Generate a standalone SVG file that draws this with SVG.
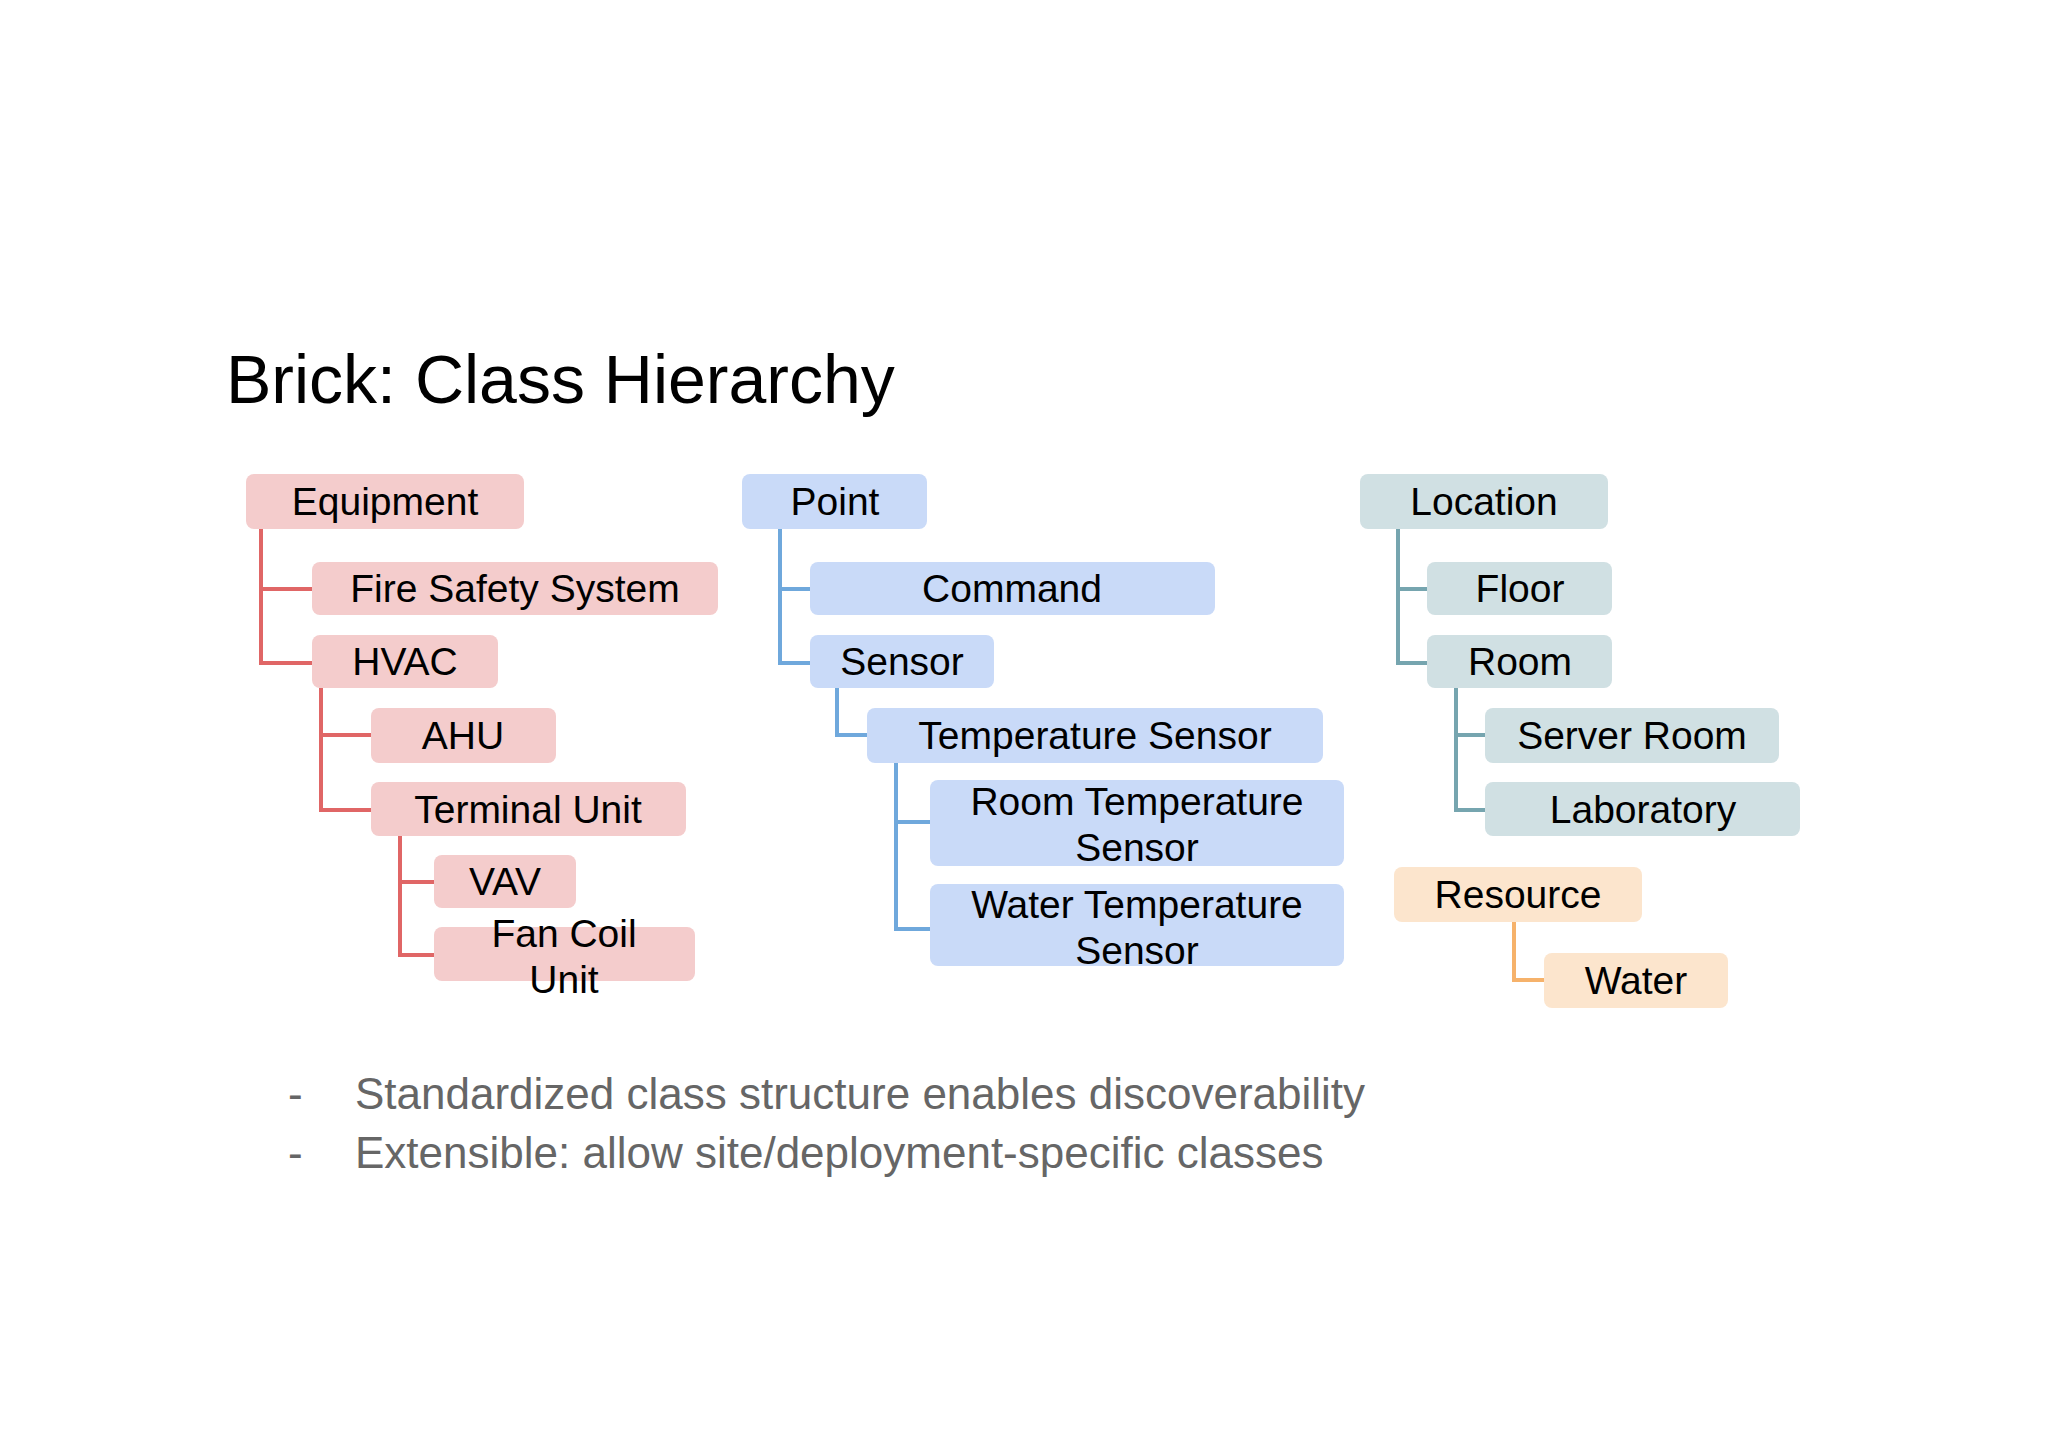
<svg xmlns="http://www.w3.org/2000/svg" width="2048" height="1447" viewBox="0 0 2048 1447">
<style>
text{font-family:"Liberation Sans",Arial,sans-serif;fill:#000}
.n{font-size:39px;text-anchor:middle}
.eq rect{fill:#f4cccc}.pt rect{fill:#c9daf8}.lc rect{fill:#d0e0e3}.rs rect{fill:#fce5cd}
.c path{fill:none;stroke-width:4}
.ce{stroke:#e06666}.cp{stroke:#6fa8dc}.cl{stroke:#76a5af}.cr{stroke:#f6b26b}
.b{font-size:44px;fill:#666}
</style>
<rect width="2048" height="1447" fill="#fff"/>
<text x="226" y="403" style="font-size:68px">Brick: Class Hierarchy</text>
<g class="c">
<path class="ce" d="M261 529V663H312M261 589H312M321 688V810H371M321 735H371M400 836V955H434M400 882H434"/>
<path class="cp" d="M780 529V663H810M780 589H810M837 688V735H867M896 763V929H930M896 822H930"/>
<path class="cl" d="M1398 529V663H1427M1398 589H1427M1456 688V810H1485M1456 735H1485"/>
<path class="cr" d="M1514 922V980H1544"/>
</g>
<g id="equipment" class="eq"><rect x="246" y="474" width="278" height="55" rx="8"/><text class="n" x="385" y="515">Equipment</text></g>
<g id="fire" class="eq"><rect x="312" y="562" width="406" height="53" rx="8"/><text class="n" x="515" y="602">Fire Safety System</text></g>
<g id="hvac" class="eq"><rect x="312" y="635" width="186" height="53" rx="8"/><text class="n" x="405" y="675">HVAC</text></g>
<g id="ahu" class="eq"><rect x="371" y="708" width="185" height="55" rx="8"/><text class="n" x="463" y="749">AHU</text></g>
<g id="terminal" class="eq"><rect x="371" y="782" width="315" height="54" rx="8"/><text class="n" x="528" y="823">Terminal Unit</text></g>
<g id="vav" class="eq"><rect x="434" y="855" width="142" height="53" rx="8"/><text class="n" x="505" y="895">VAV</text></g>
<g id="fancoil" class="eq"><rect x="434" y="927" width="261" height="54" rx="8"/><text class="n"><tspan x="564" y="947">Fan Coil</tspan><tspan x="564" y="993">Unit</tspan></text></g>
<g id="point" class="pt"><rect x="742" y="474" width="185" height="55" rx="8"/><text class="n" x="835" y="515">Point</text></g>
<g id="command" class="pt"><rect x="810" y="562" width="405" height="53" rx="8"/><text class="n" x="1012" y="602">Command</text></g>
<g id="sensor" class="pt"><rect x="810" y="635" width="184" height="53" rx="8"/><text class="n" x="902" y="675">Sensor</text></g>
<g id="tempsensor" class="pt"><rect x="867" y="708" width="456" height="55" rx="8"/><text class="n" x="1095" y="749">Temperature Sensor</text></g>
<g id="roomtemp" class="pt"><rect x="930" y="780" width="414" height="86" rx="8"/><text class="n"><tspan x="1137" y="815">Room Temperature</tspan><tspan x="1137" y="861">Sensor</tspan></text></g>
<g id="watertemp" class="pt"><rect x="930" y="884" width="414" height="82" rx="8"/><text class="n"><tspan x="1137" y="918">Water Temperature</tspan><tspan x="1137" y="964">Sensor</tspan></text></g>
<g id="location" class="lc"><rect x="1360" y="474" width="248" height="55" rx="8"/><text class="n" x="1484" y="515">Location</text></g>
<g id="floor" class="lc"><rect x="1427" y="562" width="185" height="53" rx="8"/><text class="n" x="1520" y="602">Floor</text></g>
<g id="room" class="lc"><rect x="1427" y="635" width="185" height="53" rx="8"/><text class="n" x="1520" y="675">Room</text></g>
<g id="serverroom" class="lc"><rect x="1485" y="708" width="294" height="55" rx="8"/><text class="n" x="1632" y="749">Server Room</text></g>
<g id="lab" class="lc"><rect x="1485" y="782" width="315" height="54" rx="8"/><text class="n" x="1643" y="823">Laboratory</text></g>
<g id="resource" class="rs"><rect x="1394" y="867" width="248" height="55" rx="8"/><text class="n" x="1518" y="908">Resource</text></g>
<g id="water" class="rs"><rect x="1544" y="953" width="184" height="55" rx="8"/><text class="n" x="1636" y="994">Water</text></g>
<text class="b" x="288" y="1109">-</text><text class="b" x="355" y="1109">Standardized class structure enables discoverability</text>
<text class="b" x="288" y="1168">-</text><text class="b" x="355" y="1168">Extensible: allow site/deployment-specific classes</text>
</svg>
